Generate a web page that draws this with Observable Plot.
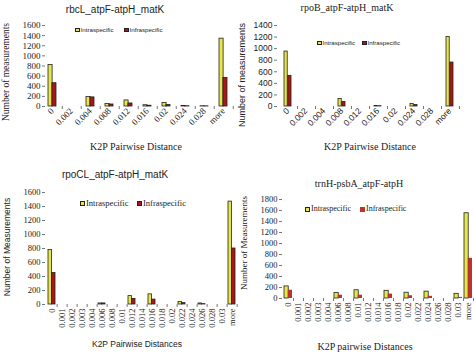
<!DOCTYPE html>
<html>
<head>
<meta charset="utf-8">
<script src="https://cdn.jsdelivr.net/npm/d3@7"></script>
<script src="https://cdn.jsdelivr.net/npm/@observablehq/plot@0.6"></script>
<style>
  html, body { margin: 0; padding: 0; background: #fff; }
  #root { position: relative; width: 474px; height: 353px; overflow: hidden; background: #fff; }
  #root svg { position: absolute; overflow: visible; }
  .t { position: absolute; white-space: nowrap; color: #222; line-height: 1; transform: translate(-50%, -50%); }
  .r { transform: translate(-50%, -50%) rotate(-90deg); }
  .mk { position: absolute; box-sizing: border-box; }
  .lg { position: absolute; white-space: nowrap; color: #222; line-height: 1; transform: translateY(-50%); }
</style>
</head>
<body>
<div id="root"></div>
<script>
// ---------- data ----------
const seriesNames = ["Intraspecific", "Infraspecific"];

const catsTop = ["0", "0.002", "0.004", "0.008", "0.012", "0.016", "0.02", "0.024", "0.028", "more"];
const catsBottom = ["0", "0.001", "0.002", "0.003", "0.004", "0.006", "0.008", "0.01", "0.012", "0.014",
                    "0.016", "0.018", "0.02", "0.022", "0.024", "0.026", "0.028", "0.03", "more"];

// rbcL_atpF-atpH_matK
const intra1 = [820, 0, 190, 50, 120, 25, 70, 12, 5, 1340];
const infra1 = [460, 0, 180, 40, 60, 15, 30, 5, 3, 565];
// rpoB_atpF-atpH_matK
const intra2 = [950, 0, 0, 130, 0, 10, 0, 45, 0, 1200];
const infra2 = [530, 0, 0, 80, 0, 5, 0, 25, 0, 760];
// rpoCL_atpF-atpH_matK
const intra3 = [780, 0, 0, 0, 0, 15, 0, 0, 120, 0, 145, 0, 0, 35, 0, 15, 0, 0, 1470];
const infra3 = [450, 0, 0, 0, 0, 15, 0, 0, 80, 0, 70, 0, 0, 20, 0, 5, 0, 0, 800];
// trnH-psbA_atpF-atpH
const intra4 = [220, 0, 0, 0, 0, 100, 0, 150, 0, 0, 140, 0, 105, 0, 125, 0, 0, 85, 1550];
const infra4 = [150, 0, 0, 0, 0, 60, 0, 60, 0, 0, 80, 0, 50, 0, 40, 0, 0, 20, 730];

const yTicks1 = [0, 200, 400, 600, 800, 1000, 1200, 1400, 1600];
const yTicks2 = [0, 200, 400, 600, 800, 1000, 1200, 1400];
const yTicks3 = [0, 200, 400, 600, 800, 1000, 1200, 1400, 1600];
const yTicks4 = [0, 200, 400, 600, 800, 1000, 1200, 1400, 1600, 1800];

const titles = ["rbcL_atpF-atpH_matK", "rpoB_atpF-atpH_matK", "rpoCL_atpF-atpH_matK", "trnH-psbA_atpF-atpH"];
const yTitles = ["Number of measurements", "Number of measurements", "Number of Measurements", "Number of Measurements"];
const xTitles = ["K2P Pairwise Distance", "K2P Pairwise Distance", "K2P Pairwise Distances", "K2P pairwise Distances"];

// ---------- layout / style ----------
const SERIF = "'Liberation Serif', 'DejaVu Serif', serif";
const SANS = "'Liberation Sans', Arial, 'DejaVu Sans', sans-serif";
const YEL = "#e6e64a";
const RED = "#a81818";
const RED4 = "#b8342c";

const panels = [
  { cats: catsTop, intra: intra1, infra: infra1, yTicks: yTicks1, ymax: 1600,
    left: 0, top: 0, width: 237, height: 160, mt: 25, mb: 54, ml: 45, mr: 7,
    pi: 0.6, po: 0.05, rot: -45, font: SERIF, fs: 9, red: RED, redStroke: "#222",
    title: { x: 115, y: 10, font: SANS, size: 10 },
    ytitle: { x: 7, y: 72, font: SERIF, size: 9.5 },
    xtitle: { x: 136, y: 147, font: SERIF, size: 10 },
    legend: { y: 30, x1: 75, x2: 124, font: SANS, size: 6.2, mk: 4.5 } },
  { cats: catsTop, intra: intra2, infra: infra2, yTicks: yTicks2, ymax: 1400,
    left: 237, top: 0, width: 237, height: 160, mt: 25, mb: 54, ml: 40, mr: 13,
    pi: 0.6, po: 0.15, rot: -45, font: SANS, fs: 8.5, red: RED, redStroke: "#222",
    title: { x: 347, y: 8, font: SERIF, size: 10 },
    ytitle: { x: 242, y: 75, font: SANS, size: 9 },
    xtitle: { x: 370, y: 147, font: SERIF, size: 10 },
    legend: { y: 43, x1: 317, x2: 362, font: SANS, size: 6.1, mk: 4.5 } },
  { cats: catsBottom, intra: intra3, infra: infra3, yTicks: yTicks3, ymax: 1600,
    left: 0, top: 176, width: 240, height: 160, mt: 16, mb: 32, ml: 45, mr: 2,
    pi: 0.3, po: 0.05, rot: -90, font: SERIF, fs: 8.5, red: RED, redStroke: "#222",
    title: { x: 115, y: 175, font: SANS, size: 10 },
    ytitle: { x: 7, y: 247, font: SANS, size: 8.5 },
    xtitle: { x: 137, y: 344, font: SANS, size: 8.5 },
    legend: { y: 203, x1: 80, x2: 137, font: SERIF, size: 8.5, mk: 5 } },
  { cats: catsBottom, intra: intra4, infra: infra4, yTicks: yTicks4, ymax: 1800,
    left: 237, top: 176, width: 237, height: 160, mt: 23, mb: 38, ml: 45, mr: 1,
    pi: 0.25, po: 0.1, rot: -90, font: SERIF, fs: 8.5, red: RED4, redStroke: "none",
    title: { x: 359, y: 184, font: SERIF, size: 10 },
    ytitle: { x: 244, y: 243, font: SERIF, size: 9 },
    xtitle: { x: 365, y: 347, font: SERIF, size: 10 },
    legend: { y: 209, x1: 305, x2: 360, font: SERIF, size: 8, mk: 5 } }
];

const root = document.getElementById("root");

function addText(txt, o, rotate) {
  const d = document.createElement("div");
  d.className = "t" + (rotate ? " r" : "");
  d.textContent = txt;
  d.style.left = o.x + "px";
  d.style.top = o.y + "px";
  d.style.fontFamily = o.font;
  d.style.fontSize = o.size + "px";
  root.appendChild(d);
}

function addLegendItem(x, y, label, fill, stroke, lg) {
  const m = document.createElement("div");
  m.className = "mk";
  m.style.left = x + "px";
  m.style.top = (y - lg.mk / 2) + "px";
  m.style.width = lg.mk + "px";
  m.style.height = lg.mk + "px";
  m.style.background = fill;
  m.style.border = stroke === "none" ? "none" : "1px solid " + stroke;
  root.appendChild(m);
  const t = document.createElement("div");
  t.className = "lg";
  t.textContent = label;
  t.style.left = (x + lg.mk + 1) + "px";
  t.style.top = y + "px";
  t.style.fontFamily = lg.font;
  t.style.fontSize = lg.size + "px";
  root.appendChild(t);
}

panels.forEach((p, k) => {
  const n = p.cats.length;
  const W = p.width - p.ml - p.mr;
  const step = W / (n - p.pi + 2 * p.po);
  const bw = step * (1 - p.pi);
  const rows = p.cats.map((c, i) => ({ cat: c, intra: p.intra[i], infra: p.infra[i] }));

  const chart = Plot.plot({
    width: p.width,
    height: p.height,
    marginTop: p.mt,
    marginBottom: p.mb,
    marginLeft: p.ml,
    marginRight: p.mr,
    style: { fontFamily: p.font, fontSize: p.fs + "px", background: "transparent", color: "#222", overflow: "visible" },
    x: { type: "band", domain: p.cats, paddingInner: p.pi, paddingOuter: p.po, align: 0.5, label: null },
    y: { domain: [0, p.ymax], label: null },
    marks: [
      Plot.barY(rows, { filter: d => d.intra > 0, x: "cat", y: "intra", fill: YEL, stroke: "#222", strokeWidth: 0.8, insetRight: bw / 2 }),
      Plot.barY(rows, { filter: d => d.infra > 0, x: "cat", y: "infra", fill: p.red, stroke: p.redStroke, strokeWidth: 0.8, insetLeft: bw / 2 }),
      Plot.axisY({ ticks: p.yTicks, tickSize: 3, tickPadding: 2, line: true, label: null, tickFormat: d3.format("d"), stroke: "#777" }),
      Plot.axisX({ tickSize: 0, tickPadding: p.rot === -90 ? 4 : 3, tickRotate: p.rot, label: null, stroke: "#777" }),
      Plot.axisX({ text: null, tickSize: 3, dx: step / 2, line: true, label: null, stroke: "#777" })
    ]
  });
  chart.style.left = p.left + "px";
  chart.style.top = p.top + "px";
  root.appendChild(chart);

  addText(titles[k], p.title, false);
  addText(yTitles[k], p.ytitle, true);
  addText(xTitles[k], p.xtitle, false);
  addLegendItem(p.legend.x1, p.legend.y, seriesNames[0], YEL, "#222", p.legend);
  addLegendItem(p.legend.x2, p.legend.y, seriesNames[1], p.red, p.redStroke, p.legend);
});
</script>
</body>
</html>
